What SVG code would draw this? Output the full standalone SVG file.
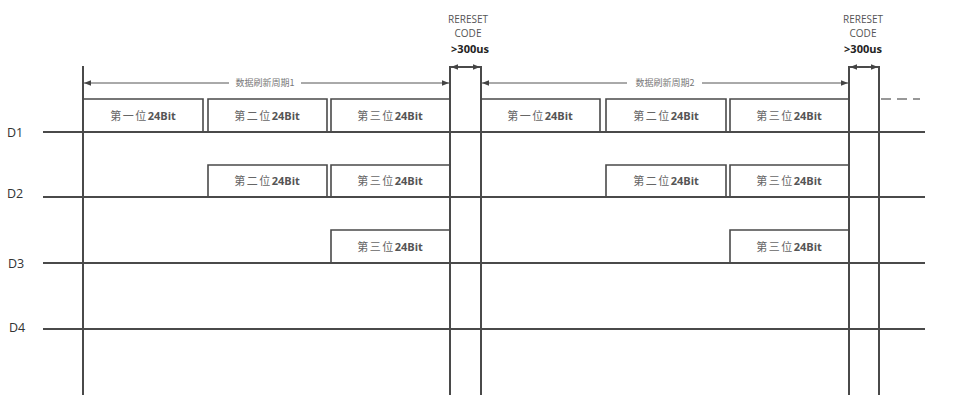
<svg xmlns="http://www.w3.org/2000/svg" width="954" height="404" viewBox="0 0 954 404">
<defs>
<marker id="ah" viewBox="0 0 10 10" refX="10" refY="5" markerWidth="7" markerHeight="7" orient="auto-start-reverse" markerUnits="userSpaceOnUse">
<path d="M0,1 L10,5 L0,9 z" fill="#444"/>
</marker>
<style>
.ln{stroke:#4a4a4a;stroke-width:2.2;fill:none}
.bx{stroke:#4a4a4a;stroke-width:1.6;fill:none}
.vl{stroke:#4a4a4a;stroke-width:2;fill:none}
.ar{stroke:#555;stroke-width:1;fill:none}
.bt{font-family:"Noto Sans CJK SC","Liberation Sans",sans-serif;font-size:11px;fill:#666;text-anchor:middle;letter-spacing:1.5px}
.bt tspan{font-family:"Open Sans","Liberation Sans",sans-serif;font-weight:bold;letter-spacing:0;fill:#555}
.lab{font-family:"Open Sans","Liberation Sans",sans-serif;font-size:12.5px;fill:#333;text-anchor:middle}
.rt{font-family:"Open Sans","Liberation Sans",sans-serif;font-size:10px;fill:#555;text-anchor:middle}
.rb{font-family:"Open Sans","Liberation Sans",sans-serif;font-size:11px;font-weight:bold;fill:#222;text-anchor:middle}
.ct{font-family:"Noto Sans CJK SC",sans-serif;font-size:9px;fill:#777;text-anchor:middle}
</style>
</defs>
<rect width="954" height="404" fill="#fff"/>

<g id="labels">
<text class="lab" x="15" y="137">D1</text>
<text class="lab" x="15" y="198">D2</text>
<text class="lab" x="16" y="268">D3</text>
<text class="lab" x="17" y="332">D4</text>
</g>

<g id="reset1">
<text class="rt" x="468" y="23">RERESET</text>
<text class="rt" x="468" y="37">CODE</text>
<text class="rb" x="470" y="53">&gt;300us</text>
</g>
<g id="reset2">
<text class="rt" x="863" y="23">RERESET</text>
<text class="rt" x="863" y="37">CODE</text>
<text class="rb" x="863" y="53">&gt;300us</text>
</g>

<g id="connectors">
<line class="ln" x1="43" y1="132" x2="925" y2="132"/>
<line class="ln" x1="43" y1="197" x2="925" y2="197"/>
<line class="ln" x1="43" y1="263" x2="925" y2="263"/>
<line class="ln" x1="43" y1="329" x2="925" y2="329"/>
<line class="vl" x1="83" y1="66" x2="83" y2="395"/>
<polyline class="vl" points="450,395 450,67 481,67 481,395"/>
<polyline class="vl" points="849,395 849,67 879,67 879,395"/>
<line class="ar" x1="460" y1="67" x2="451" y2="67" marker-end="url(#ah)"/>
<line class="ar" x1="471" y1="67" x2="480" y2="67" marker-end="url(#ah)"/>
<line class="ar" x1="859" y1="67" x2="850" y2="67" marker-end="url(#ah)"/>
<line class="ar" x1="869" y1="67" x2="878" y2="67" marker-end="url(#ah)"/>
<line class="ar" x1="229" y1="83" x2="84" y2="83" marker-end="url(#ah)"/>
<line class="ar" x1="301" y1="83" x2="449" y2="83" marker-end="url(#ah)"/>
<line class="ar" x1="627" y1="83" x2="482" y2="83" marker-end="url(#ah)"/>
<line class="ar" x1="702" y1="83" x2="848" y2="83" marker-end="url(#ah)"/>
<text class="ct" x="265" y="86">数据刷新周期1</text>
<text class="ct" x="665" y="86">数据刷新周期2</text>
<line x1="881" y1="99" x2="920" y2="99" stroke="#777" stroke-width="1.3" stroke-dasharray="10,6"/>
</g>

<g id="d1-c1-b1"><polyline class="bx" points="83,132 83,99 203,99 203,132"/><text class="bt" x="143" y="120">第一位<tspan>24Bit</tspan></text></g>
<g id="d1-c1-b2"><polyline class="bx" points="208,132 208,99 327,99 327,132"/><text class="bt" x="267" y="120">第二位<tspan>24Bit</tspan></text></g>
<g id="d1-c1-b3"><polyline class="bx" points="331,132 331,99 450,99 450,132"/><text class="bt" x="390" y="120">第三位<tspan>24Bit</tspan></text></g>
<g id="d1-c2-b1"><polyline class="bx" points="481,132 481,99 600,99 600,132"/><text class="bt" x="540" y="120">第一位<tspan>24Bit</tspan></text></g>
<g id="d1-c2-b2"><polyline class="bx" points="606,132 606,99 726,99 726,132"/><text class="bt" x="666" y="120">第二位<tspan>24Bit</tspan></text></g>
<g id="d1-c2-b3"><polyline class="bx" points="730,132 730,99 849,99 849,132"/><text class="bt" x="789" y="120">第三位<tspan>24Bit</tspan></text></g>

<g id="d2-c1-b2"><polyline class="bx" points="208,197 208,165 327,165 327,197"/><text class="bt" x="267" y="185">第二位<tspan>24Bit</tspan></text></g>
<g id="d2-c1-b3"><polyline class="bx" points="331,197 331,165 450,165 450,197"/><text class="bt" x="390" y="185">第三位<tspan>24Bit</tspan></text></g>
<g id="d2-c2-b2"><polyline class="bx" points="606,197 606,165 726,165 726,197"/><text class="bt" x="666" y="185">第二位<tspan>24Bit</tspan></text></g>
<g id="d2-c2-b3"><polyline class="bx" points="730,197 730,165 849,165 849,197"/><text class="bt" x="789" y="185">第三位<tspan>24Bit</tspan></text></g>

<g id="d3-c1-b3"><polyline class="bx" points="331,263 331,230 450,230 450,263"/><text class="bt" x="390" y="251">第三位<tspan>24Bit</tspan></text></g>
<g id="d3-c2-b3"><polyline class="bx" points="730,263 730,230 849,230 849,263"/><text class="bt" x="789" y="251">第三位<tspan>24Bit</tspan></text></g>
</svg>
